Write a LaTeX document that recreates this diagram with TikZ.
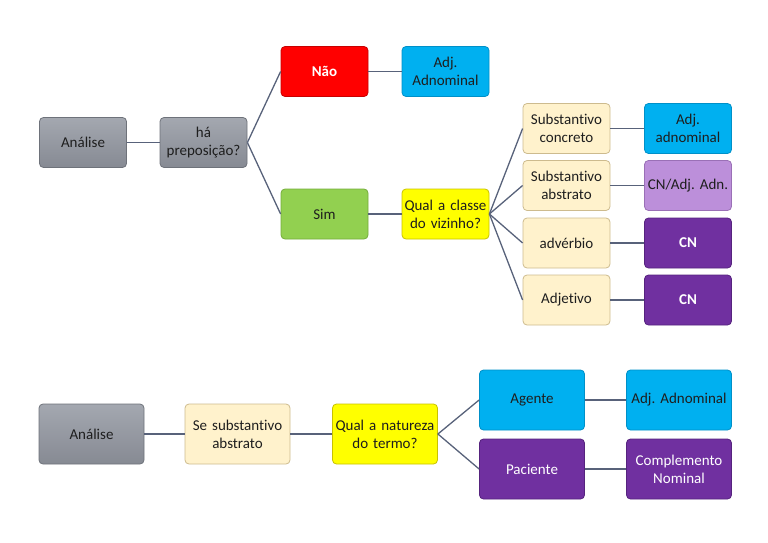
\documentclass[tikz,border=0pt]{standalone}
\usepackage{fontspec}
\setmainfont{Carlito}[Ligatures={NoCommon}]
\frenchspacing
\definecolor{grayF}{HTML}{9499A2}
\definecolor{grayT}{HTML}{A4A8B0}
\definecolor{grayB}{HTML}{868A93}
\definecolor{grayD}{HTML}{6E727A}
\definecolor{redF}{HTML}{FF0000}
\definecolor{redD}{HTML}{C80000}
\definecolor{blueF}{HTML}{00B0F0}
\definecolor{blueD}{HTML}{0090C8}
\definecolor{greenF}{HTML}{92D050}
\definecolor{greenD}{HTML}{74AC3C}
\definecolor{yelF}{HTML}{FFFF00}
\definecolor{yelD}{HTML}{C8C200}
\definecolor{creamF}{HTML}{FFF2CC}
\definecolor{creamD}{HTML}{CDBB8E}
\definecolor{lilF}{HTML}{BC8FDA}
\definecolor{lilD}{HTML}{9A70B6}
\definecolor{purF}{HTML}{7030A0}
\definecolor{purD}{HTML}{56237E}
\definecolor{lineC}{HTML}{58627A}
\definecolor{txt}{HTML}{1E1E1E}
\tikzset{
  box/.style={rectangle, rounded corners=4pt, inner sep=1pt, align=center,
    font=\fontsize{15}{18}\selectfont, text=txt, line width=0.8pt},
  small/.style={box, minimum width=87pt, minimum height=50pt, text width=85pt},
  big/.style={box, minimum width=105pt, minimum height=60pt, text width=103pt},
  gray/.style={draw=grayD, top color=grayT, bottom color=grayB},
  red/.style={draw=redD, fill=redF, text=white, font=\fontsize{15}{18}\selectfont\bfseries},
  blue/.style={draw=blueD, fill=blueF},
  green/.style={draw=greenD, fill=greenF},
  yel/.style={draw=yelD, fill=yelF},
  cream/.style={draw=creamD, fill=creamF},
  lil/.style={draw=lilD, fill=lilF},
  pur/.style={draw=purD, fill=purF, text=white},
  purb/.style={pur, font=\fontsize{15}{18}\selectfont\bfseries},
  conn/.style={draw=lineC, line width=1.3pt}
}
\begin{document}
\begin{tikzpicture}[x=1pt,y=-1pt]
\useasboundingbox (0,0) rectangle (768,543);
% top tree
\node[small,gray] (A1) at (83,142.5) {Análise};
\node[small,gray] (H) at (203.5,142.5) {há\\preposição?};
\node[small,red] (Nao) at (324.5,71.5) {Não};
\node[small,blue] (Adj1) at (445.5,71.5) {Adj.\\Adnominal};
\node[small,green] (Sim) at (324.5,214) {Sim};
\node[small,yel] (Qual) at (445.5,214) {Qual a classe\\do vizinho?};
\node[small,cream] (SC) at (566.5,128.5) {Substantivo\\concreto};
\node[small,blue] (AdjA) at (688,128.5) {Adj.\\adnominal};
\node[small,cream] (SA) at (566.5,185.5) {Substantivo\\abstrato};
\node[small,lil] (CNA) at (688,185.5) {CN/Adj. Adn.};
\node[small,cream] (Adv) at (566.5,243) {advérbio};
\node[small,purb] (CN1) at (688,243) {CN};
\node[small,cream] (Adjt) at (566.5,300) {Adjetivo};
\node[small,purb] (CN2) at (688,300) {CN};
\draw[conn] (A1.east) -- (H.west);
\draw[conn] (H.east) -- (Nao.west);
\draw[conn] (H.east) -- (Sim.west);
\draw[conn] (Nao.east) -- (Adj1.west);
\draw[conn] (Sim.east) -- (Qual.west);
\draw[conn] (Qual.east) -- (SC.west);
\draw[conn] (Qual.east) -- (SA.west);
\draw[conn] (Qual.east) -- (Adv.west);
\draw[conn] (Qual.east) -- (Adjt.west);
\draw[conn] (SC.east) -- (AdjA.west);
\draw[conn] (SA.east) -- (CNA.west);
\draw[conn] (Adv.east) -- (CN1.west);
\draw[conn] (Adjt.east) -- (CN2.west);
% bottom tree
\node[big,gray] (A2) at (91.5,434) {Análise};
\node[big,cream] (Se) at (237.5,434) {Se substantivo\\abstrato};
\node[big,yel] (QN) at (385,434) {Qual a natureza\\do termo?};
\node[big,blue] (Ag) at (532,400) {Agente};
\node[big,blue] (AdjB) at (679,400) {Adj. Adnominal};
\node[big,pur] (Pac) at (532,469) {Paciente};
\node[big,pur] (CNom) at (679,469) {Complemento\\Nominal};
\draw[conn] (A2.east) -- (Se.west);
\draw[conn] (Se.east) -- (QN.west);
\draw[conn] (QN.east) -- (Ag.west);
\draw[conn] (QN.east) -- (Pac.west);
\draw[conn] (Ag.east) -- (AdjB.west);
\draw[conn] (Pac.east) -- (CNom.west);
\end{tikzpicture}
\end{document}
